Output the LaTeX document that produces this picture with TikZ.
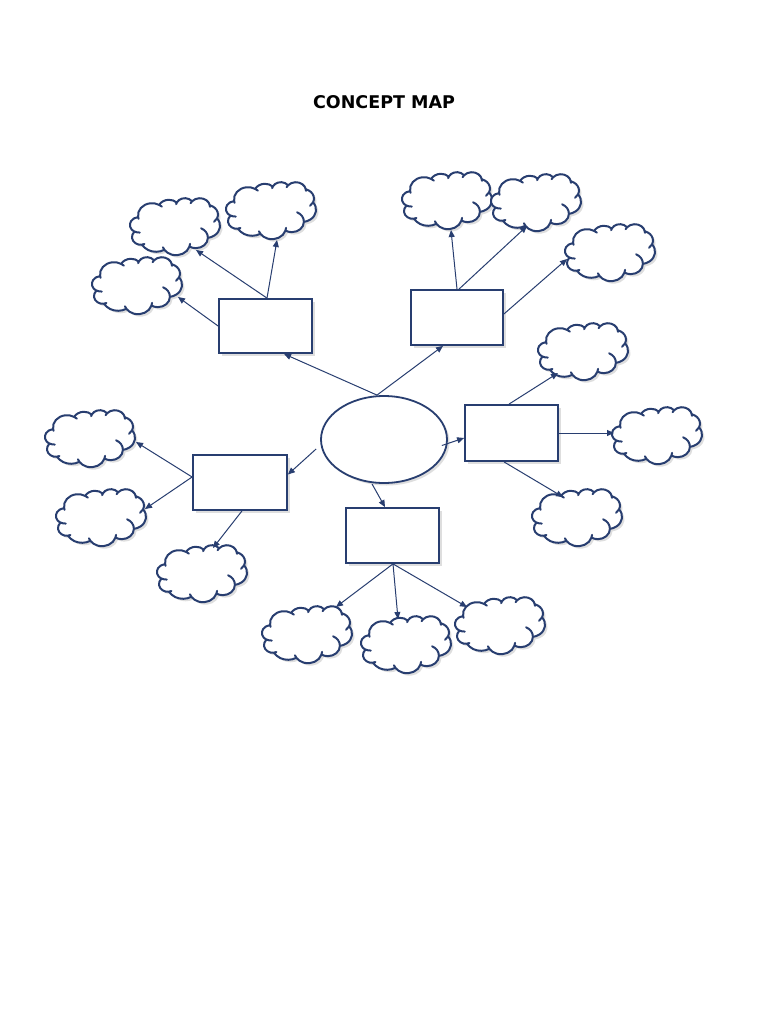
\documentclass[tikz,border=0pt]{standalone}
\usepackage{fontspec}
\setmainfont{DejaVu Sans}
\usetikzlibrary{arrows.meta,shadows,shapes.geometric}
\definecolor{navy}{RGB}{40,62,112}
\definecolor{shade}{RGB}{140,140,140}

% convert OOXML (geometric) arc angles to parametric ones
\newcommand{\cldang}[5]{%
  \pgfmathsetmacro{\tmpA}{atan2((#2)*sin(#4),(#3)*cos(#4))}%
  \pgfmathsetmacro{\tmpB}{atan2((#2)*sin((#4)+(#5)),(#3)*cos((#4)+(#5)))}%
  \pgfmathsetmacro{\tmpB}{\tmpB+((\tmpB<\tmpA)?360:0)}%
  \expandafter\xdef\csname cldS#1\endcsname{\tmpA}%
  \expandafter\xdef\csname cldE#1\endcsname{\tmpB}%
}
\cldang{a}{67.53}{91.90}{-190.4875}{123.7805}
\cldang{b}{53.33}{72.67}{-144.1024}{89.9452}
\cldang{c}{43.65}{59.45}{-145.8079}{99.7230}
\cldang{d}{48.57}{65.95}{-130.9861}{117.2417}
\cldang{e}{53.33}{72.73}{-78.7089}{109.0269}
\cldang{f}{67.75}{92.20}{-46.2673}{130.2690}
\cldang{g}{57.85}{78.67}{0.6250}{114.0333}
\cldang{h}{67.52}{92.15}{22.4516}{115.1726}
\cldang{i}{77.20}{105.43}{66.2426}{75.7110}
\cldang{j}{43.60}{59.18}{-274.9421}{146.7356}
\cldang{k}{43.45}{59.45}{-246.8285}{152.5189}
\cldang{A}{43.45}{59.45}{86.7420}{26.4295}
\cldang{B}{43.60}{59.18}{73.6105}{11.4475}
\cldang{C}{67.52}{92.15}{137.6242}{14.0811}
\cldang{D}{67.52}{92.15}{6.4533}{15.9984}
\cldang{E}{57.85}{78.67}{-70.2924}{70.9174}
\cldang{F}{53.33}{72.73}{30.3180}{27.7515}
\cldang{G}{48.57}{65.95}{-13.7443}{14.8636}
\cldang{H}{48.57}{65.95}{-149.1815}{18.1962}
\cldang{I}{43.65}{59.45}{-163.4943}{17.6864}
\cldang{J}{67.53}{91.90}{-66.7070}{12.3194}
\cldang{K}{67.53}{91.90}{157.6544}{11.8582}

\newcommand{\cldmain}{(39.00,143.70)
 arc[start angle=\cldSa,end angle=\cldEa,x radius=67.53,y radius=91.90]
 arc[start angle=\cldSb,end angle=\cldEb,x radius=53.33,y radius=72.67]
 arc[start angle=\cldSc,end angle=\cldEc,x radius=43.65,y radius=59.45]
 arc[start angle=\cldSd,end angle=\cldEd,x radius=48.57,y radius=65.95]
 arc[start angle=\cldSe,end angle=\cldEe,x radius=53.33,y radius=72.73]
 arc[start angle=\cldSf,end angle=\cldEf,x radius=67.75,y radius=92.20]
 arc[start angle=\cldSg,end angle=\cldEg,x radius=57.85,y radius=78.67]
 arc[start angle=\cldSh,end angle=\cldEh,x radius=67.52,y radius=92.15]
 arc[start angle=\cldSi,end angle=\cldEi,x radius=77.20,y radius=105.43]
 arc[start angle=\cldSj,end angle=\cldEj,x radius=43.60,y radius=59.18]
 arc[start angle=\cldSk,end angle=\cldEk,x radius=43.45,y radius=59.45]
 -- cycle}

\newcommand{\cldinner}{
 (46.93,261.77) arc[start angle=\cldSA,end angle=\cldEA,x radius=43.45,y radius=59.45]
 (69.28,348.99) arc[start angle=\cldSB,end angle=\cldEB,x radius=43.60,y radius=59.18]
 (164.78,390.90) arc[start angle=\cldSC,end angle=\cldEC,x radius=67.52,y radius=92.15]
 (288.27,347.51) arc[start angle=\cldSD,end angle=\cldED,x radius=67.52,y radius=92.15]
 (341.29,229.54) arc[start angle=\cldSE,end angle=\cldEE,x radius=57.85,y radius=78.67]
 (417.98,153.54) arc[start angle=\cldSF,end angle=\cldEF,x radius=53.33,y radius=72.73]
 (383.24,54.26) arc[start angle=\cldSG,end angle=\cldEG,x radius=48.57,y radius=65.95]
 (290.78,39.52) arc[start angle=\cldSH,end angle=\cldEH,x radius=48.57,y radius=65.95]
 (221.41,47.20) arc[start angle=\cldSI,end angle=\cldEI,x radius=43.65,y radius=59.45]
 (140.00,51.92) arc[start angle=\cldSJ,end angle=\cldEJ,x radius=67.53,y radius=91.90]
 (41.27,157.89) arc[start angle=\cldSK,end angle=\cldEK,x radius=67.53,y radius=91.90]
}

\newcommand{\cloudat}[2]{%
  \begin{scope}[shift={(#1,#2)},x=0.20833pt,y=-0.13194pt]
    \path[cloudfill] \cldmain;
    \draw[cloudline] \cldinner;
  \end{scope}}

\tikzset{
  myshadow/.style={drop shadow={shadow xshift=2.5pt,shadow yshift=-2.5pt,opacity=0.28,fill=shade}},
  cloudfill/.style={draw=navy,line width=2pt,fill=white,line join=round,myshadow},
  cloudline/.style={draw=navy,line width=2pt,line cap=round},
  boxnode/.style={draw=navy,line width=1.8pt,fill=white,inner sep=0pt,rectangle,myshadow},
  link/.style={draw=navy,line width=1pt,-{Triangle[length=7pt,width=6pt]}},
}

\begin{document}
\begin{tikzpicture}[x=1pt,y=-1pt]
\useasboundingbox[fill=white] (0,0) rectangle (768,1024);

\node[font=\bfseries\fontsize{17.5}{21}\selectfont,inner sep=0pt] (title) at (384,102) {CONCEPT MAP};

% clouds
\cloudat{130}{198}
\cloudat{226}{182}
\cloudat{92}{257}
\cloudat{402}{172}
\cloudat{491}{174}
\cloudat{565}{224}
\cloudat{538}{323}
\cloudat{612}{407}
\cloudat{532}{489}
\cloudat{45}{410}
\cloudat{56}{489}
\cloudat{157}{545}
\cloudat{262}{606}
\cloudat{361}{616}
\cloudat{455}{597}

% boxes and central ellipse
\node[boxnode,minimum width=93pt,minimum height=54pt] (bTL) at (265.5,326) {};
\node[boxnode,minimum width=92pt,minimum height=55pt] (bTR) at (457,317.5) {};
\node[boxnode,minimum width=93pt,minimum height=56pt] (bR) at (511.5,433) {};
\node[boxnode,minimum width=94pt,minimum height=55pt] (bL) at (240,482.5) {};
\node[boxnode,minimum width=93pt,minimum height=55pt] (bB) at (392.5,535.5) {};
\node[ellipse,draw=navy,line width=1.8pt,fill=white,inner sep=0pt,minimum width=126pt,minimum height=87pt,myshadow] (ell) at (384,439.5) {};

% arrow end points on clouds
\coordinate (tA) at (196,250);
\coordinate (tB) at (277,240);
\coordinate (tC) at (178,297);
\coordinate (tD) at (451,230);
\coordinate (tE) at (527,226);
\coordinate (tF) at (567,259);
\coordinate (tG) at (558,373);
\coordinate (tH) at (614,433);
\coordinate (tI) at (563,497);
\coordinate (tJ) at (136,442);
\coordinate (tK) at (145,509);
\coordinate (tL) at (213,548);
\coordinate (tM) at (336,607);
\coordinate (tN) at (398,619);
\coordinate (tO) at (467,607);

% from the ellipse
\draw[link] ([xshift=-7pt]ell.north) -- ([xshift=18.5pt]bTL.south);
\draw[link] ([xshift=-7pt]ell.north) -- ([xshift=-14pt]bTR.south);
\draw[link] ([xshift=-6pt,yshift=-6pt]ell.east) -- ([yshift=-5pt]bR.west);
\draw[link] ([xshift=-4pt,yshift=-9.5pt]ell.west) -- ([yshift=8pt]bL.east);
\draw[link] ([xshift=-12pt]ell.south) -- ([xshift=-7.5pt]bB.north);

% from the boxes
\draw[link] ([xshift=1.5pt]bTL.north) -- (tB);
\draw[link] ([xshift=1.5pt]bTL.north) -- (tA);
\draw[link] (bTL.west) -- (tC);
\draw[link] (bTR.north) -- (tD);
\draw[link] ([xshift=2pt]bTR.north) -- (tE);
\draw[link] ([yshift=3.5pt]bTR.east) -- (tF);
\draw[link] ([xshift=-2.5pt]bR.north) -- (tG);
\draw[link] (bR.east) -- (tH);
\draw[link] ([xshift=-7.5pt]bR.south) -- (tI);
\draw[link] ([yshift=5.5pt]bL.west) -- (tJ);
\draw[link] ([yshift=5.5pt]bL.west) -- (tK);
\draw[link] ([xshift=2pt]bL.south) -- (tL);
\draw[link] ([xshift=0.5pt]bB.south) -- (tM);
\draw[link] ([xshift=0.5pt]bB.south) -- (tN);
\draw[link] ([xshift=0.5pt]bB.south) -- (tO);
\end{tikzpicture}
\end{document}
